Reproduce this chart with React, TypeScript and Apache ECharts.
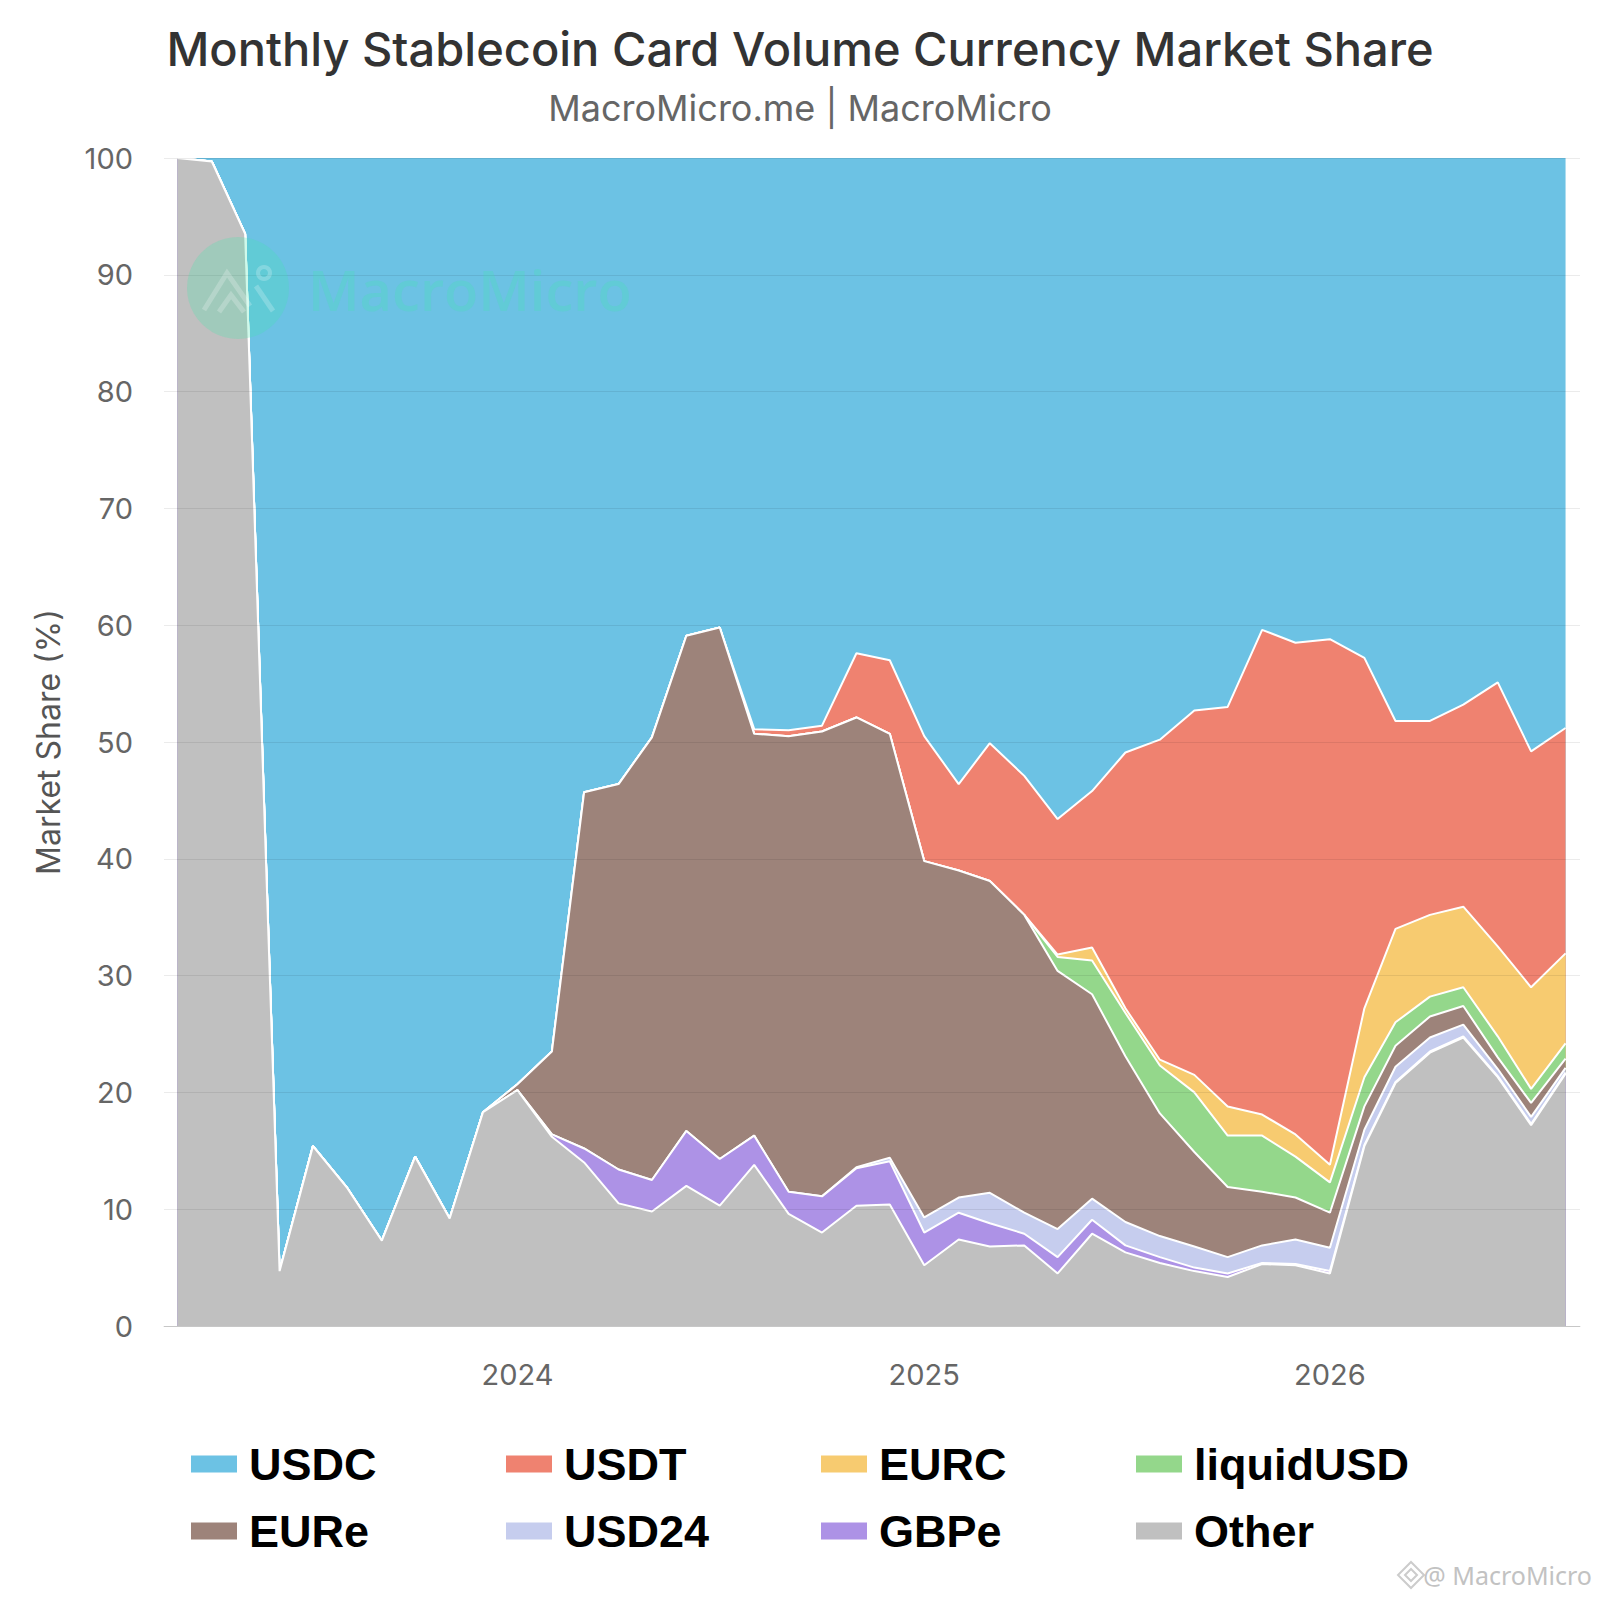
import React, { useEffect, useRef } from 'react';
import * as echarts from 'echarts';

const months = [
  '2023-03-01', '2023-04-01', '2023-05-01', '2023-06-01', '2023-07-01', '2023-08-01',
  '2023-09-01', '2023-10-01', '2023-11-01', '2023-12-01', '2024-01-01', '2024-02-01',
  '2024-03-01', '2024-04-01', '2024-05-01', '2024-06-01', '2024-07-01', '2024-08-01',
  '2024-09-01', '2024-10-01', '2024-11-01', '2024-12-01', '2025-01-01', '2025-02-01',
  '2025-03-01', '2025-04-01', '2025-05-01', '2025-06-01', '2025-07-01', '2025-08-01',
  '2025-09-01', '2025-10-01', '2025-11-01', '2025-12-01', '2026-01-01', '2026-02-01',
  '2026-03-01', '2026-04-01', '2026-05-01', '2026-06-01', '2026-07-01', '2026-08-01',
];

const other = [
  100, 99.7, 93.5, 4.7, 15.4, 11.8, 7.3, 14.5, 9.2, 18.3,
  20.2, 16.2, 14.0, 10.5, 9.8, 12.0, 10.3, 13.8, 9.6, 8.0,
  10.3, 10.4, 5.2, 7.4, 6.8, 6.9, 4.5, 7.9, 6.3, 5.4,
  4.7, 4.2, 5.3, 5.2, 4.5, 15.4, 20.8, 23.4, 24.7, 21.3,
  17.2, 21.6,
];
const gbpe = [
  0, 0, 0, 0, 0, 0, 0, 0, 0, 0,
  0, 0.2, 1.2, 2.9, 2.7, 4.7, 4.0, 2.5, 1.9, 3.1,
  3.2, 3.7, 2.8, 2.3, 2.0, 1.0, 1.4, 1.2, 0.6, 0.5,
  0.3, 0.3, 0.1, 0.1, 0.2, 0.1, 0.1, 0.1, 0.1, 0.1,
  0.1, 0.1,
];
const usd24 = [
  0, 0, 0, 0, 0, 0, 0, 0, 0, 0,
  0, 0, 0, 0, 0, 0, 0, 0, 0, 0,
  0.1, 0.3, 1.3, 1.3, 2.6, 1.8, 2.4, 1.8, 2.0, 1.8,
  1.8, 1.4, 1.5, 2.1, 2.0, 1.3, 1.3, 1.2, 1.0, 0.6,
  0.6, 0.4,
];
const eure = [
  0, 0, 0, 0, 0, 0, 0, 0, 0, 0,
  0.5, 7.1, 30.5, 33.0, 37.9, 42.4, 45.5, 34.4, 39.0, 39.8,
  38.5, 36.3, 30.5, 28.0, 26.7, 25.5, 22.1, 17.5, 14.2, 10.5,
  8.1, 6.0, 4.6, 3.6, 3.0, 2.0, 1.8, 1.8, 1.6, 1.0,
  1.2, 0.8,
];
const liquidUSD = [
  0, 0, 0, 0, 0, 0, 0, 0, 0, 0,
  0, 0, 0, 0, 0, 0, 0, 0, 0, 0,
  0, 0, 0, 0, 0, 0, 1.2, 2.9, 3.7, 4.1,
  5.1, 4.4, 4.8, 3.5, 2.6, 2.5, 2.0, 1.7, 1.6, 1.8,
  1.2, 1.3,
];
const eurc = [
  0, 0, 0, 0, 0, 0, 0, 0, 0, 0,
  0, 0, 0, 0, 0, 0, 0, 0, 0, 0,
  0, 0, 0, 0, 0, 0, 0.2, 1.1, 0.4, 0.5,
  1.5, 2.5, 1.8, 1.9, 1.5, 5.9, 8.0, 7.0, 6.9, 7.7,
  8.7, 7.7,
];
const usdt = [
  0, 0, 0, 0, 0, 0, 0, 0, 0, 0,
  0, 0, 0, 0, 0, 0, 0, 0.4, 0.5, 0.5,
  5.5, 6.3, 10.7, 7.4, 11.8, 11.9, 11.6, 13.4, 21.9, 27.4,
  31.2, 34.2, 41.5, 42.1, 45.0, 30.0, 17.8, 16.6, 17.3, 22.6,
  20.2, 19.3,
];
const usdc = [
  0, 0.3, 6.5, 95.3, 84.6, 88.2, 92.7, 85.5, 90.8, 81.7,
  79.3, 76.5, 54.3, 53.6, 49.6, 40.9, 40.2, 48.9, 49.0, 48.6,
  42.4, 43.0, 49.5, 53.6, 50.1, 52.9, 56.6, 54.2, 50.9, 49.8,
  47.3, 47.0, 40.4, 41.5, 41.2, 42.8, 48.2, 48.2, 46.8, 44.9,
  50.8, 48.8,
];

const yearTicks = ['2024-01-01', '2025-01-01', '2026-01-01'];
const xRange = ['2023-02-17', '2026-08-14'];

// stack order, bottom first
const stackNames = ['Other', 'GBPe', 'USD24', 'EURe', 'liquidUSD', 'EURC', 'USDT', 'USDC'];
const stackData = [other, gbpe, usd24, eure, liquidUSD, eurc, usdt, usdc];
const stackColors = ['#c0c0c0', '#ad92e6', '#c6cdee', '#9d837a', '#94d78b', '#f7cb70', '#ef8270', '#6cc2e4'];

const legendColumns = [
  ['USDC', 'EURe'],
  ['USDT', 'USD24'],
  ['EURC', 'GBPe'],
  ['liquidUSD', 'Other'],
];
const legendLefts = [191, 506, 821, 1136];

const ts = (d: string) => new Date(d + 'T00:00:00').getTime();

const App: React.FC = () => {
  const ref = useRef<HTMLDivElement>(null);

  useEffect(() => {
    document.body.style.margin = '0';
    if (!ref.current) return;
    const chart = echarts.init(ref.current, undefined, { renderer: 'svg' });

    const colorOf = (name: string) => stackColors[stackNames.indexOf(name)];

    // cumulative tops of the stacked layers (a stacked table built from the arrays)
    const cumulative = stackData.map((_, i) =>
      months.map((_, j) => {
        let s = 0;
        for (let k = 0; k <= i; k++) s += stackData[k][j];
        return Math.round(s * 100) / 100;
      })
    );

    // draw the tallest layer first; each lower layer paints over it from 0
    const series = stackNames.map((name, i) => ({
      type: 'line',
      name,
      data: months.map((m, j) => [ts(m), Math.min(cumulative[i][j], 100)]),
      showSymbol: false,
      symbol: 'none',
      color: stackColors[i],
      z: 20 - i,
      lineStyle: { color: '#ffffff', width: name === 'USDC' ? 0 : 2 },
      areaStyle: { color: stackColors[i], opacity: 1, origin: 'start' },
      emphasis: { disabled: true },
    }));

    const option: any = {
      animation: false,
      backgroundColor: '#ffffff',
      title: [
        {
          text: 'Monthly Stablecoin Card Volume Currency Market Share',
          left: 'center',
          top: 20,
          textStyle: { fontFamily: 'Inter', fontWeight: 500, fontSize: 47, color: '#333333' },
        },
        {
          text: 'MacroMicro.me | MacroMicro',
          left: 'center',
          top: 85,
          textStyle: { fontFamily: 'Inter', fontWeight: 400, fontSize: 36, color: '#666666' },
        },
      ],
      grid: { left: 164, right: 20, top: 158, bottom: 274, containLabel: false, outerBoundsMode: 'none' },
      xAxis: {
        type: 'value',
        min: ts(xRange[0]),
        max: ts(xRange[1]),
        axisLine: { show: true, lineStyle: { color: '#d8d8d8', width: 1 } },
        axisTick: { show: false },
        splitLine: { show: false },
        axisLabel: {
          customValues: yearTicks.map(ts),
          formatter: (v: number) => String(new Date(v).getFullYear()),
          fontFamily: 'Inter',
          fontSize: 29,
          color: '#666666',
          margin: 34,
        },
      },
      yAxis: {
        type: 'value',
        min: 0,
        max: 100,
        interval: 10,
        z: 30,
        name: 'Market Share (%)',
        nameLocation: 'middle',
        nameGap: 100,
        nameTextStyle: { fontFamily: 'Inter', fontSize: 32, color: '#555555' },
        axisLine: { show: false },
        axisTick: { show: false },
        axisLabel: { fontFamily: 'Inter', fontSize: 29, color: '#666666', margin: 31 },
        splitLine: { show: true, lineStyle: { color: 'rgba(0,0,0,0.08)', width: 1 } },
      },
      legend: legendColumns.map((col, i) => ({
        data: col.map((name) => ({ name, itemStyle: { color: colorOf(name) } })),
        orient: 'vertical',
        left: legendLefts[i],
        top: 1438,
        itemWidth: 46,
        itemHeight: 17,
        itemGap: 15,
        icon: 'rect',
        selectedMode: false,
        padding: 0,
        textStyle: {
          fontFamily: 'Liberation Sans',
          fontWeight: 'bold',
          fontSize: 45,
          color: '#000000',
          lineHeight: 52,
          padding: [0, 0, 0, 7],
        },
      })),
      graphic: [
        {
          type: 'circle',
          z: 100,
          shape: { cx: 238, cy: 288, r: 51 },
          style: { fill: 'rgba(64,230,170,0.25)' },
        },
        {
          type: 'polyline',
          z: 101,
          shape: { points: [[204, 310], [227, 273], [250, 306]] },
          style: { stroke: 'rgba(255,255,255,0.22)', lineWidth: 5, fill: 'none' },
        },
        {
          type: 'polyline',
          z: 101,
          shape: { points: [[219, 312], [231, 295], [244, 312]] },
          style: { stroke: 'rgba(255,255,255,0.22)', lineWidth: 5, fill: 'none' },
        },
        {
          type: 'circle',
          z: 101,
          shape: { cx: 264, cy: 273, r: 6 },
          style: { stroke: 'rgba(255,255,255,0.22)', lineWidth: 4, fill: 'none' },
        },
        {
          type: 'polyline',
          z: 101,
          shape: { points: [[256, 286], [273, 311]] },
          style: { stroke: 'rgba(255,255,255,0.22)', lineWidth: 5, fill: 'none' },
        },
        {
          type: 'text',
          z: 100,
          x: 308,
          y: 289,
          style: {
            text: 'MacroMicro',
            fontFamily: 'Open Sans',
            fontWeight: 600,
            fontSize: 56,
            fill: 'rgba(64,230,170,0.25)',
            align: 'left',
            verticalAlign: 'middle',
          },
        },
        {
          type: 'polygon',
          z: 100,
          shape: { points: [[1411, 1562], [1424, 1575], [1411, 1588], [1398, 1575]] },
          style: { stroke: '#cccccc', lineWidth: 2, fill: 'none' },
        },
        {
          type: 'polygon',
          z: 100,
          shape: { points: [[1411, 1569], [1417, 1575], [1411, 1581], [1405, 1575]] },
          style: { stroke: '#cccccc', lineWidth: 2, fill: 'none' },
        },
        {
          type: 'text',
          z: 100,
          x: 1592,
          y: 1575,
          style: {
            text: '@ MacroMicro',
            fontFamily: 'Noto Sans',
            fontSize: 25,
            fill: '#c2c2c2',
            align: 'right',
            verticalAlign: 'middle',
          },
        },
      ],
      series,
    };

    chart.setOption(option);
    return () => {
      chart.dispose();
    };
  }, []);

  return <div ref={ref} style={{ width: 1600, height: 1600 }} />;
};

export default App;
